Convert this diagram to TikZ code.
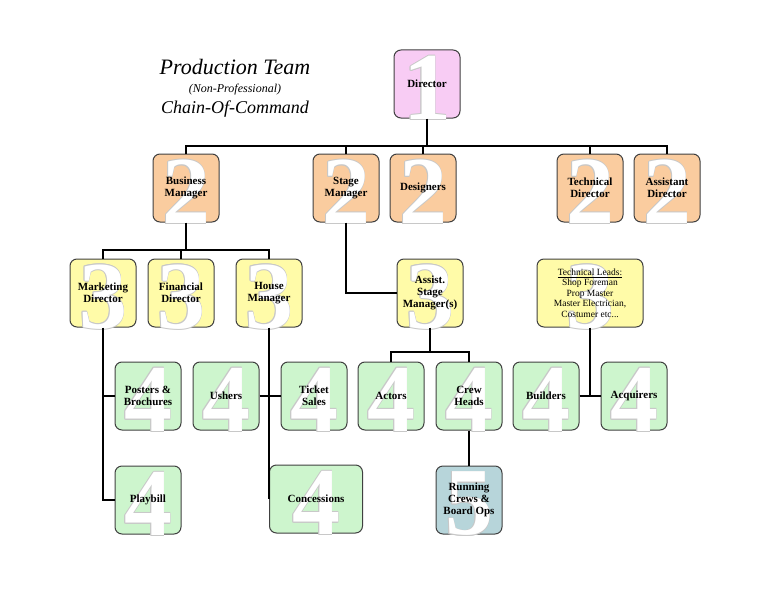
\documentclass[tikz,border=0pt]{standalone}
\usepackage{fontspec}
\setmainfont{Liberation Serif}
\newfontfamily\numfont{Liberation Serif}
\definecolor{cpink}{HTML}{F8CCF4}
\definecolor{corange}{HTML}{FACC9F}
\definecolor{cyellow}{HTML}{FFFBA8}
\definecolor{cgreen}{HTML}{CDF5CD}
\definecolor{cblue}{HTML}{B7D5DA}
\definecolor{cborder}{HTML}{404040}
\definecolor{cnumedge}{HTML}{C8C8C8}
\begin{document}
\begin{tikzpicture}[x=1pt,y=-1pt,
  card/.style={draw=cborder,line width=1pt,rounded corners=7pt,minimum width=66pt,minimum height=68pt,inner sep=0pt},
  lbl/.style={align=center,font=\bfseries\fontsize{11}{12}\selectfont,text=black},
  num/.style={font=\numfont\bfseries\fontsize{96}{96}\selectfont,text=white,inner sep=0pt},
  numedge/.style={num,text=cnumedge},
  ln/.style={line width=1.8pt,black}]
\useasboundingbox (0,0) rectangle (768,594);
\newcommand\bignum[3]{% x y numeral
  \foreach \dx/\dy in {0.8/0,-0.8/0,0/0.8,0/-0.8,0.6/0.6,-0.6/0.6,0.6/-0.6,-0.6/-0.6}
    \node[numedge] at (#1+\dx,#2+4+\dy) {#3};
  \node[num] at (#1,#2+4) {#3};
}
\newcommand\mycard[6]{% name, x, y, color, numeral, text
  \node[card,fill=#4] (#1) at (#2,#3) {};
  \bignum{#2}{#3}{#5}
  \node[lbl] (#1t) at (#2,#3) {#6};
}
% title
\node[font=\itshape\fontsize{22}{22}\selectfont] (t1) at (235,67) {Production Team};
\node[font=\itshape\fontsize{12}{12}\selectfont] (t2) at (235,90) {(Non-Professional)};
\node[font=\itshape\fontsize{18}{18}\selectfont] (t3) at (235,109) {Chain-Of-Command};
% level 1
\mycard{dir}{427}{84}{cpink}{1}{Director}
% level 2
\mycard{bm}{186}{188}{corange}{2}{Business\\Manager}
\mycard{sm}{346}{188}{corange}{2}{Stage\\Manager}
\mycard{des}{423}{188}{corange}{2}{Designers}
\mycard{td}{590}{188}{corange}{2}{Technical\\Director}
\mycard{ad}{667}{188}{corange}{2}{Assistant\\Director}
% level 3
\mycard{md}{103}{293}{cyellow}{3}{Marketing\\Director}
\mycard{fd}{181}{293}{cyellow}{3}{Financial\\Director}
\mycard{hm}{269}{293}{cyellow}{3}{House\\Manager}
\mycard{asm}{430}{293}{cyellow}{3}{Assist.\\Stage\\Manager(s)}
\node[card,fill=cyellow,minimum width=106pt] (tl) at (590,293) {};
\bignum{590}{293}{3}
\node[lbl,font=\fontsize{9.5}{10.5}\selectfont] (tlt) at (590,293) {\underline{Technical Leads:}\\Shop Foreman\\Prop Master\\Master Electrician,\\Costumer etc...};
% level 4
\mycard{pb}{148}{396}{cgreen}{4}{Posters \&\\Brochures}
\mycard{us}{226}{396}{cgreen}{4}{Ushers}
\mycard{ts}{314}{396}{cgreen}{4}{Ticket\\Sales}
\mycard{ac}{391}{396}{cgreen}{4}{Actors}
\mycard{ch}{469}{396}{cgreen}{4}{Crew\\Heads}
\mycard{bu}{546}{396}{cgreen}{4}{Builders}
\mycard{aq}{634}{396}{cgreen}{4}{Acquirers}
% level 5
\mycard{pl}{148}{500}{cgreen}{4}{Playbill}
\node[card,fill=cgreen,minimum width=93pt] (co) at (316,499) {};
\bignum{316}{499}{4}
\node[lbl] (cot) at (316,499) {Concessions};
\mycard{rc}{469}{500}{cblue}{5}{Running\\Crews \&\\Board Ops}
% connectors
\coordinate (bus2) at (427,146);
\draw[ln] (dir.south) -- (bus2);
\draw[ln] (bm.north) |- (ad.north |- bus2) -- (ad.north);
\foreach \n in {sm,des,td} \draw[ln] (\n.north) -- (\n.north |- bus2);
\coordinate (bus3) at (186,250);
\draw[ln] (bm.south) -- (bus3);
\draw[ln] (md.north) |- (hm.north |- bus3) -- (hm.north);
\draw[ln] (fd.north) -- (fd.north |- bus3);
\draw[ln] (sm.south) |- (asm.west);
\coordinate (bus4) at (430,352);
\draw[ln] (asm.south) -- (bus4);
\draw[ln] (ac.north) |- (ch.north |- bus4) -- (ch.north);
\draw[ln] (md.south) |- (pl.west);
\draw[ln] (md.south |- pb.west) -- (pb.west);
\draw[ln] (hm.south) -- (hm.south |- co.west);
\draw[ln] (us.east) -- (ts.west);
\draw[ln] (ch.south) -- (rc.north);
\draw[ln] (tl.south) -- (tl.south |- bu.east);
\draw[ln] (bu.east) -- (aq.west);
\end{tikzpicture}
\end{document}
